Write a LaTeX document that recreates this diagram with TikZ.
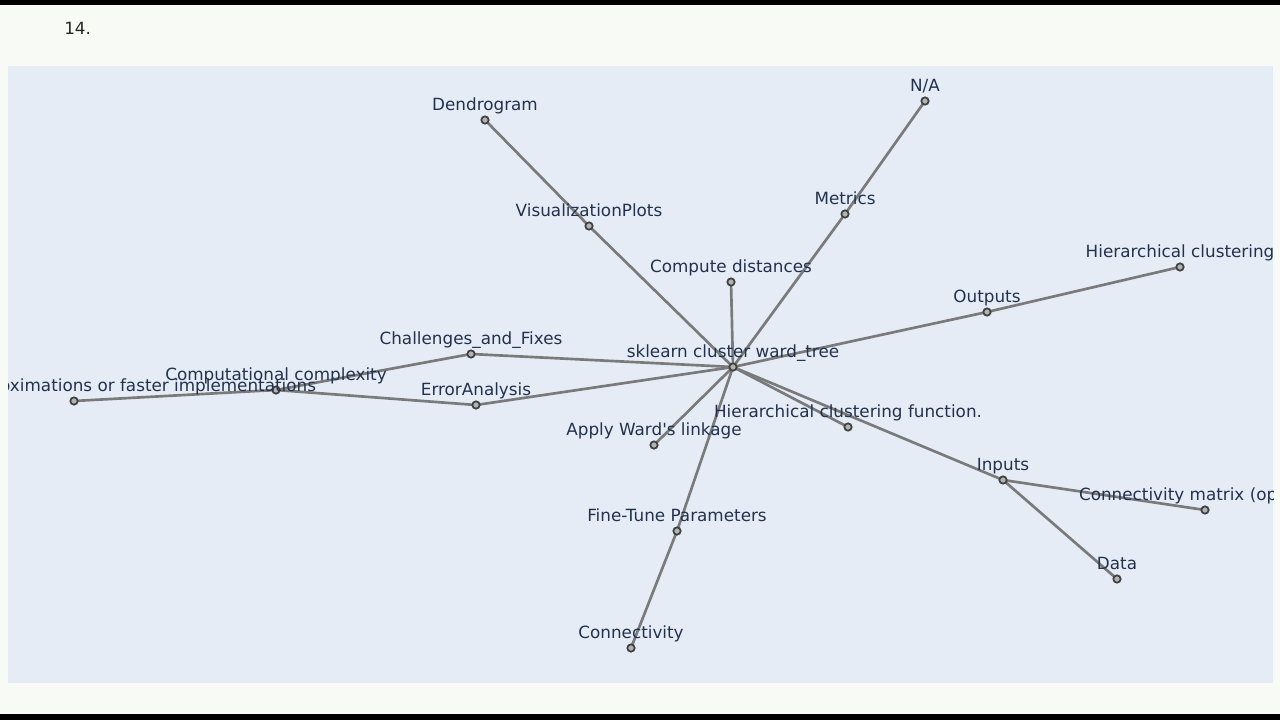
\documentclass[tikz,border=0pt]{standalone}
\usepackage{fontspec}
\setmainfont{DejaVu Sans}
\definecolor{pagebg}{HTML}{F8FBF5}
\definecolor{plotbg}{HTML}{E5ECF6}
\definecolor{edgec}{HTML}{7A7A7A}
\definecolor{txt}{HTML}{2A3F5F}
\begin{document}
\begin{tikzpicture}[x=0.75pt,y=-0.75pt,
  pt/.style={circle,draw=black!75,fill=gray!60,line width=1.3pt,inner sep=0pt,minimum size=5.5pt},
  edge/.style={draw=edgec,line width=2pt},
  lab/.style={anchor=base,inner sep=0pt,font=\fontsize{12.6pt}{14pt}\selectfont,text=txt!80!black}]
\useasboundingbox (0,0) rectangle (1280,720);
\fill[pagebg] (0,0) rectangle (1280,720);
\fill[black] (0,0) rectangle (1280,5);
\fill[black] (0,714) rectangle (1280,720);
\node[lab,text=black!85,anchor=base west] (title) at (64,35) {14.};
\fill[plotbg] (8,66) rectangle (1273,683);
\begin{scope}
\clip (8,66) rectangle (1273,683);
\coordinate (c) at (733,367);
\coordinate (den) at (485,120);
\coordinate (na) at (925,101);
\coordinate (vis) at (589,226);
\coordinate (met) at (845,214);
\coordinate (cd) at (731,282);
\coordinate (hc) at (1180,267);
\coordinate (out) at (987,312);
\coordinate (chf) at (471,354);
\coordinate (cc) at (276,390);
\coordinate (ap) at (74,401);
\coordinate (ea) at (476,405);
\coordinate (aw) at (654,445);
\coordinate (hf) at (848,427);
\coordinate (inp) at (1003,480);
\coordinate (cm) at (1205,510);
\coordinate (data) at (1117,579);
\coordinate (ft) at (677,531);
\coordinate (con) at (631,648);
\draw[edge] (c) -- (vis) -- (den);
\draw[edge] (c) -- (met) -- (na);
\draw[edge] (c) -- (cd);
\draw[edge] (c) -- (out) -- (hc);
\draw[edge] (c) -- (chf) -- (cc) -- (ap);
\draw[edge] (c) -- (ea) -- (cc);
\draw[edge] (c) -- (aw);
\draw[edge] (c) -- (hf);
\draw[edge] (c) -- (inp) -- (cm);
\draw[edge] (inp) -- (data);
\draw[edge] (c) -- (ft) -- (con);
\foreach \p in {c,den,na,vis,met,cd,hc,out,chf,cc,ap,ea,aw,hf,inp,cm,data,ft,con}{
  \node[pt] (n\p) at (\p) {};
}
\foreach \p/\t in {c/{sklearn cluster ward\_tree}, den/Dendrogram, na/{N/A}, vis/VisualizationPlots, met/Metrics, cd/Compute distances, hc/Hierarchical clustering, out/Outputs, chf/Challenges\_and\_Fixes, cc/Computational complexity, ap/Consider using approximations or faster implementations, ea/ErrorAnalysis, aw/{Apply Ward\textquotesingle s linkage}, hf/Hierarchical clustering function., inp/Inputs, cm/Connectivity matrix (optional), data/Data, ft/Fine-Tune Parameters, con/Connectivity}{
  \node[lab] (l\p) at ([yshift=6.8pt]\p) {\t};
}
\end{scope}
\end{tikzpicture}
\end{document}
